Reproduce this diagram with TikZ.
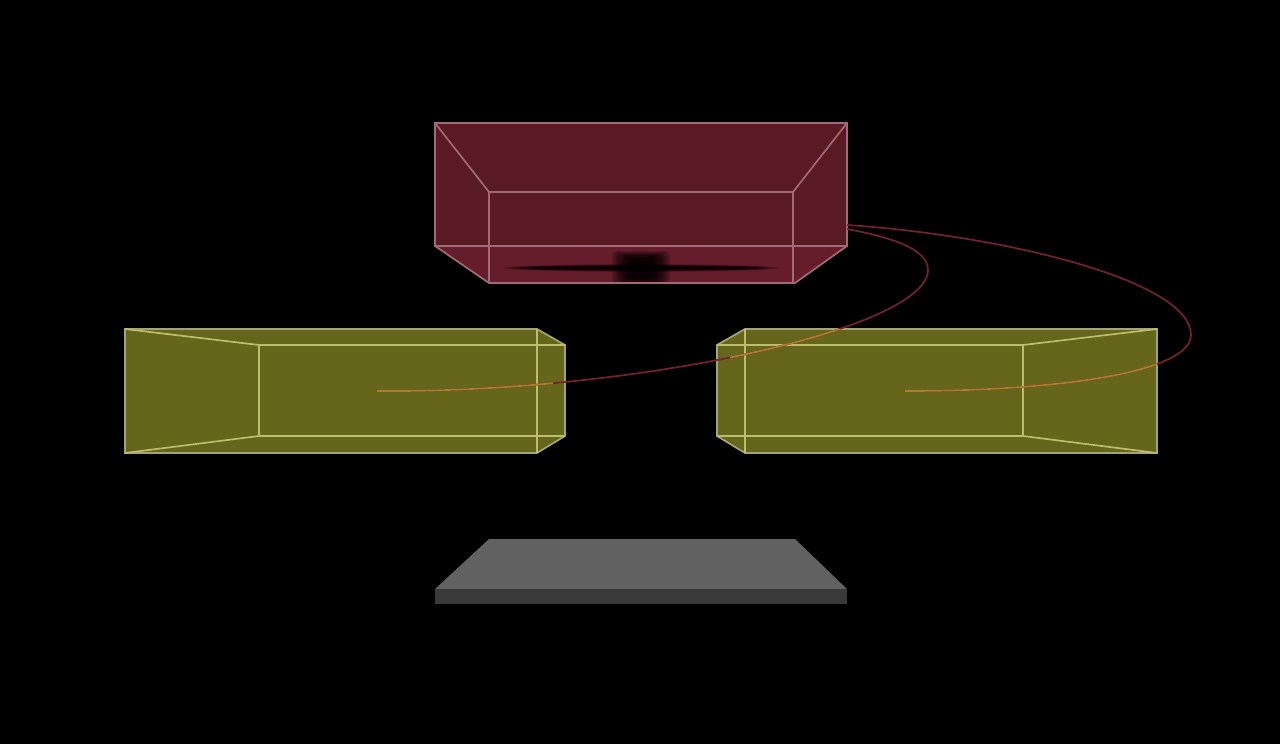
\documentclass[tikz,border=0pt]{standalone}
\definecolor{redtop}{HTML}{5A1A24}
\definecolor{redlow}{HTML}{651C2B}
\definecolor{redline}{HTML}{A06A76}
\definecolor{wire}{HTML}{742231}
\definecolor{wireolive}{HTML}{B07C30}
\definecolor{olivefill}{HTML}{65651C}
\definecolor{oliveout}{HTML}{A4A47A}
\definecolor{olivein}{HTML}{BDBD6C}
\definecolor{greytop}{HTML}{616161}
\definecolor{greyfront}{HTML}{3A3A3A}
\tikzset{
  redwire/.style={line width=1.7pt,color=redline},
  oliveedge/.style={line width=1.7pt,color=oliveout},
  oliveinner/.style={line width=1.7pt,color=olivein},
  cable/.style={line width=1.7pt,color=wire},
  cableolive/.style={line width=1.7pt,color=wireolive},
  shadowlayer/.style={fill=black,draw=none,opacity=0.09}
}
\newcommand{\cableA}{(847,229) .. controls (895,238) and (928,250) .. (928,270) .. controls (928,328) and (640,393) .. (377,391)}
\newcommand{\cableB}{(847,225) .. controls (1000,235) and (1191,280) .. (1191,335) .. controls (1191,372) and (1060,391) .. (905,391)}
\begin{document}
\begin{tikzpicture}[x=1pt,y=-1pt]
\fill[black] (0,0) rectangle (1280,744);
\useasboundingbox (0,0) rectangle (1280,744);
% floor
\fill[greytop] (489,539) -- (795,539) -- (847,589) -- (435,589) -- cycle;
\fill[greyfront] (435,589) rectangle (847,604);
% red box
\fill[redtop] (435,123) rectangle (847,246);
\fill[redlow] (435,246) -- (489,283) -- (795,283) -- (847,246) -- cycle;
% shadow on the red box
\foreach \i in {0,1,...,19}{
  \fill[shadowlayer] (641,268) ellipse ({138-\i*2} and {3.8-\i*0.15});
  \fill[shadowlayer,rounded corners=4pt] ({612+\i*1},{251+\i*0.45}) rectangle ({670-\i*1},{284-\i*0.3});
}
\draw[redwire] (435,123) rectangle (847,246);
\draw[redwire] (435,246) -- (489,283) -- (795,283) -- (847,246);
\draw[redwire] (435,123) -- (489,192) -- (793,192) -- (847,123);
\draw[redwire] (489,192) -- (489,283);
\draw[redwire] (793,192) -- (793,283);
% olive boxes
\foreach \sx/\ox in {1/0,-1/1282}{
  \begin{scope}[shift={(\ox,0)},xscale=\sx]
    \fill[olivefill] (125,329) -- (537,329) -- (565,345) -- (565,436) -- (537,453) -- (125,453) -- cycle;
    \draw[oliveedge] (125,329) -- (537,329) -- (565,345) -- (565,436) -- (537,453) -- (125,453) -- cycle;
    \draw[oliveinner] (125,329) -- (259,345) -- (565,345);
    \draw[oliveinner] (125,453) -- (259,436) -- (565,436);
    \draw[oliveinner] (259,345) -- (259,436);
    \draw[oliveinner] (537,329) -- (537,453);
  \end{scope}
}
% cables
\draw[cable] \cableA;
\draw[cable] \cableB;
\begin{scope}
  \clip (125,329) rectangle (553,453);
  \draw[cableolive] \cableA;
\end{scope}
\begin{scope}
  \clip (730,329) rectangle (1157,453);
  \draw[cableolive] \cableA;
  \draw[cableolive] \cableB;
\end{scope}
\end{tikzpicture}
\end{document}
